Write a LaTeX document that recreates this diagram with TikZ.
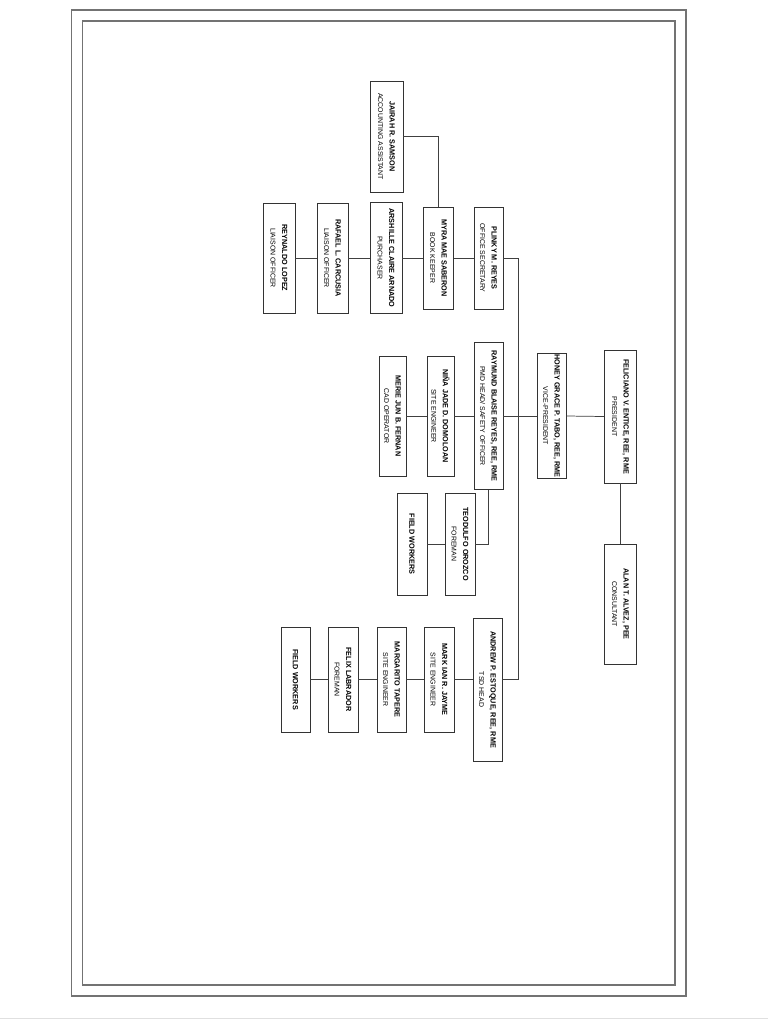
\documentclass[tikz,border=0pt]{standalone}
\usepackage{fontspec}
\setmainfont{Liberation Sans}
\newfontfamily\namefont[FakeStretch=0.97]{Liberation Sans Bold}
\newfontfamily\rolefont{Liberation Sans}
\begin{document}
\begin{tikzpicture}[x=0.75pt,y=-0.75pt,
  frame/.style={draw=black!55,line width=0.8pt},
  orgbox/.style 2 args={draw=black!80,line width=0.6pt,rotate=-90,align=center,
    inner sep=0pt,minimum width=#2*0.75pt,minimum height=#1*0.75pt,
    font=\fontsize{5.6}{8.6}\selectfont},
  link/.style={draw=black!75,line width=0.55pt}]
\useasboundingbox (0,0) rectangle (768,1024);
\fill[white] (0,0) rectangle (768,1024);
% frames
\draw[frame] (71.5,10) rectangle (686,996);
\draw[frame] (82.5,21) rectangle (675,985);
\draw[black!12,line width=0.6pt] (0,1018) -- (768,1018);
% helper macro for text
\newcommand\orgname[2]{{\namefont #1}\\{\rolefont\fontsize{5.2}{8.6}\selectfont #2}}
% row 1
\node[orgbox={33}{111}] (jairah) at (386.5,136.5) {\orgname{JAIRAH R. SAMSON}{ACCOUNTING ASSISTANT}};
\node[orgbox={32}{110}] (reynaldo) at (279,258) {\orgname{REYNALDO LOPEZ}{LIAISON OFFICER}};
\node[orgbox={31}{110}] (rafael) at (332.5,258) {\orgname{RAFAEL L. CARCUSIA}{LIAISON OFFICER}};
\node[orgbox={32}{111}] (arshille) at (386,258) {\orgname{ARSHILLE CLAIRE ARNADO}{PURCHASER}};
\node[orgbox={30}{102}] (myra) at (438.5,258) {\orgname{MYRA MAE SABERON}{BOOK KEEPER}};
\node[orgbox={29}{102}] (plinky) at (488.5,258) {\orgname{PLINKY M. REYES}{OFFICE SECRETARY}};
% row 2
\node[orgbox={32}{133}] (feliciano) at (620.5,416.5) {\orgname{FELICIANO V. ENTICE, REE, RME}{PRESIDENT}};
\node[orgbox={29}{125}] (honey) at (551.5,416) {\orgname{HONEY GRACE P. TABO, REE, RME}{VICE-PRESIDENT}};
\node[orgbox={29}{147}] (raymund) at (488.5,416) {\orgname{RAYMUND BLAISE REYES, REE, RME}{PMD HEAD/ SAFETY OFFICER}};
\node[orgbox={27}{120}] (nina) at (440.5,416) {\orgname{NIÑA JADE D. DOMOLOAN}{SITE ENGINEER}};
\node[orgbox={27}{120}] (merie) at (392.5,416) {\orgname{MERIE JUN B. FERNAN}{CAD OPERATOR}};
% teodulfo row
\node[orgbox={30}{102}] (teodulfo) at (460,544) {\orgname{TEODULFO OROZCO}{FOREMAN}};
\node[orgbox={30}{102}] (fwa) at (412,544) {{\namefont FIELD WORKERS}};
% consultant
\node[orgbox={32}{120}] (alan) at (620.5,604) {\orgname{ALAN T. ALVEZ, PEE}{CONSULTANT}};
% row 3
\node[orgbox={29}{143}] (andrew) at (487.5,689.5) {\orgname{ANDREW P. ESTOQUE, REE, RME}{TSD HEAD}};
\node[orgbox={30}{105}] (markian) at (439,679.5) {\orgname{MARK IAN R. JAYME}{SITE ENGINEER}};
\node[orgbox={29}{105}] (margarito) at (391.5,679.5) {\orgname{MARGARITO TAPERE}{SITE ENGINEER}};
\node[orgbox={30}{105}] (felix) at (343,679.5) {\orgname{FELIX LABRADOR}{FOREMAN}};
\node[orgbox={29}{105}] (fwb) at (295.5,679.5) {{\namefont FIELD WORKERS}};
% connectors (rotated nodes: north = page right, south = page left, west = page top, east = page bottom)
\coordinate (t1) at (518,258);
\coordinate (t2) at (518,679.5);
\draw[link] (jairah.north) -| (myra.west);
\draw[link] (reynaldo.north) -- (rafael.south);
\draw[link] (rafael.north) -- (arshille.south);
\draw[link] (arshille.north) -- (myra.south);
\draw[link] (myra.north) -- (plinky.south);
\draw[link] (plinky.north) -- (t1) -- (t2) -- (andrew.north |- t2);
\draw[link] (feliciano.east) -- (alan.west);
\draw[link] (honey.north) -- (feliciano.south);
\draw[link] (raymund.north) -- (honey.south);
\draw[link] (merie.north) -- (nina.south);
\draw[link] (nina.north) -- (raymund.south);
\draw[link] (raymund.east) |- (teodulfo.north);
\draw[link] (fwa.north) -- (teodulfo.south);
\draw[link] (fwb.north) -- (felix.south);
\draw[link] (felix.north) -- (margarito.south);
\draw[link] (margarito.north) -- (markian.south);
\draw[link] (markian.north) -- (andrew.south |- markian.north);
\end{tikzpicture}
\end{document}
